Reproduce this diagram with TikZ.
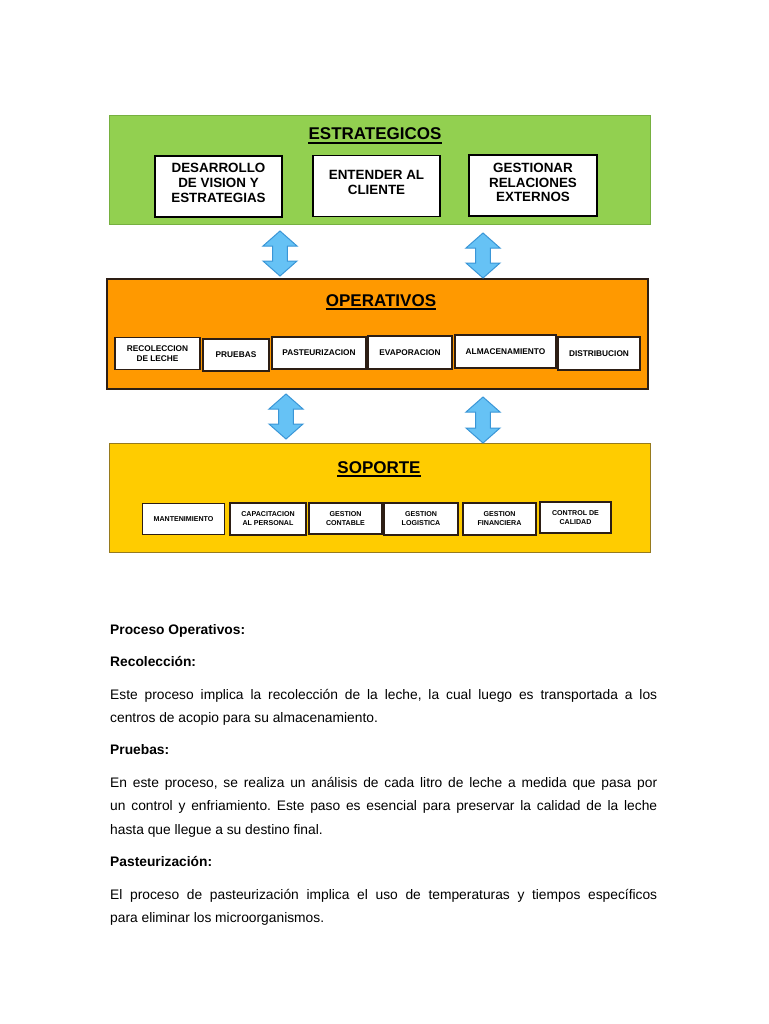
\documentclass[tikz,border=0pt]{standalone}
\usepackage{fontspec}
\setmainfont{Liberation Sans}
\usetikzlibrary{positioning}
\definecolor{verde}{RGB}{146,208,80}
\definecolor{verdeborde}{RGB}{118,176,64}
\definecolor{naranja}{RGB}{255,153,0}
\definecolor{amarillo}{RGB}{255,204,0}
\definecolor{amarilloborde}{RGB}{150,122,30}
\definecolor{celeste}{RGB}{102,194,245}
\definecolor{celesteborde}{RGB}{58,150,215}
\definecolor{oscuro}{RGB}{45,30,20}
\frenchspacing

\begin{document}
\begin{tikzpicture}[x=1pt,y=-1pt,
    panel/.style={minimum width=541pt, minimum height=109pt, inner sep=0pt},
    titulo/.style={anchor=base, inner sep=0pt, font=\fontsize{17}{20}\selectfont\bfseries},
    caja/.style={draw=oscuro, fill=white, line width=1.3pt, inner sep=0pt, align=center},
    cajag/.style={caja, draw=black, minimum width=127pt, minimum height=61pt, font=\fontsize{13.4}{14.8}\selectfont\bfseries},
    cajao/.style={caja, minimum height=32pt, font=\fontsize{8.3}{10}\selectfont\bfseries},
    cajay/.style={caja, minimum height=31pt, font=\fontsize{7.1}{9}\selectfont\bfseries},
    flecha/.style={fill=celeste, draw=celesteborde, line width=1pt, line join=miter},
    parrafo/.style={anchor=base west, inner sep=0pt, text width=547pt, align=justify, font=\fontsize{13.8}{23.5}\selectfont}]
    \path[use as bounding box, fill=white] (0,0) rectangle (768,1024);

    \node[panel, fill=verde, draw=verdeborde, line width=0.8pt] (estrategicos) at (379.5,169.5) {};
    \node[panel, fill=naranja, draw=oscuro, line width=1.2pt, minimum height=110pt] (operativos) at (377.5,334) {};
    \node[panel, fill=amarillo, draw=amarilloborde, line width=1pt] (soporte) at (379.5,498) {};

    \node[titulo] (tituloE) at (375,140) {ESTRATEGICOS};
    \node[titulo] (tituloO) at (381,306) {OPERATIVOS};
    \node[titulo] (tituloS) at (379,473) {SOPORTE};
    \foreach \t in {tituloE,tituloO,tituloS}
        \draw[line width=1.4pt] ([yshift=-3pt]\t.base west) -- ([yshift=-3pt]\t.base east);

    \node[cajag] (desarrollo) at (218.5,186.5) {DESARROLLO\\DE VISION Y\\ESTRATEGIAS\rule[-7pt]{0pt}{7pt}};
    \node[cajag] (cliente) at (376.5,186) {ENTENDER AL\\CLIENTE\rule[-8pt]{0pt}{8pt}};
    \node[cajag, minimum width=128pt] (relaciones) at (533,185.5) {GESTIONAR\\RELACIONES\\EXTERNOS\rule[-6pt]{0pt}{6pt}};

    \node[cajao, minimum width=85pt] (recoleccion) at (157.5,353.5) {RECOLECCION\\DE LECHE};
    \node[cajao, minimum width=66pt] (pruebas) at (236,355) {PRUEBAS};
    \node[cajao, minimum width=94pt] (pasteurizacion) at (319,353) {PASTEURIZACION};
    \node[cajao, minimum width=84pt, minimum height=33pt] (evaporacion) at (410,352.5) {EVAPORACION};
    \node[cajao, minimum width=101pt, minimum height=33pt] (almacenamiento) at (505.5,351.5) {ALMACENAMIENTO};
    \node[cajao, minimum width=82pt, minimum height=33pt] (distribucion) at (599,353.5) {DISTRIBUCION};

    \node[cajay, minimum width=82pt] (mantenimiento) at (183.5,519.3) {MANTENIMIENTO};
    \node[cajay, minimum width=76pt, minimum height=32pt] (capacitacion) at (268,519) {CAPACITACION\\AL PERSONAL};
    \node[cajay, minimum width=73pt] (contable) at (345.5,518.5) {GESTION\\CONTABLE};
    \node[cajay, minimum width=74pt, minimum height=32pt] (logistica) at (421,519) {GESTION\\LOGISTICA};
    \node[cajay, minimum width=73pt, minimum height=32pt] (financiera) at (499.5,519) {GESTION\\FINANCIERA};
    \node[cajay, minimum width=71pt] (calidad) at (575.5,517.5) {CONTROL DE\\CALIDAD};

    \foreach \cx/\ty/\by in {280/231/276, 483/233/278, 286/394/439, 483/397/443}
        \draw[flecha] (\cx,\ty) -- ++(17,15) -- ++(-9.7,0) -- (\cx+7.3,\by-15) -- ++(9.7,0)
            -- (\cx,\by) -- ++(-17,-15) -- ++(9.7,0) -- (\cx-7.3,\ty+15) -- ++(-9.7,0) -- cycle;

    \node[parrafo] (p1) at (110,634) {\bfseries Proceso Operativos:};
    \node[parrafo] (p2) at (110,666) {\bfseries Recolección:};
    \node[parrafo] (p3) at (110,699) {Este proceso implica la recolección de la leche, la cual luego es transportada a los\linebreak centros de acopio para su almacenamiento.};
    \node[parrafo] (p4) at (110,754) {\bfseries Pruebas:};
    \node[parrafo] (p5) at (110,787) {En este proceso, se realiza un análisis de cada litro de leche a medida que pasa por\linebreak un control y enfriamiento. Este paso es esencial para preservar la calidad de la leche\linebreak hasta que llegue a su destino final.};
    \node[parrafo] (p6) at (110,866) {\bfseries Pasteurización:};
    \node[parrafo] (p7) at (110,899) {El proceso de pasteurización implica el uso de temperaturas y tiempos específicos\linebreak para eliminar los microorganismos.};
\end{tikzpicture}
\end{document}
